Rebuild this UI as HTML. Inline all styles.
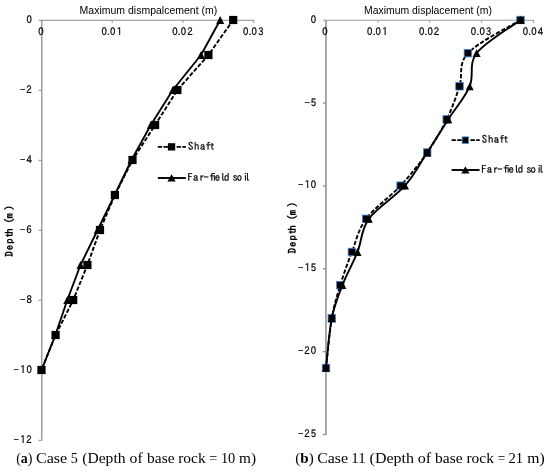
<!DOCTYPE html>
<html lang="en"><head><meta charset="utf-8"><title>Maximum displacement vs depth</title>
<style>html,body{margin:0;padding:0;background:#fff}svg{display:block}text{fill:#000;white-space:pre}.g{font-family:"IPAGothic","Liberation Mono",monospace;font-size:10.67px;stroke:#000;stroke-width:.22px}.t{font-family:"IPAPGothic","Liberation Sans",sans-serif;font-size:10.4px;stroke:#000;stroke-width:.3px}.a{font-family:"Liberation Sans",sans-serif;font-size:10.3px}.c{font-family:"Liberation Serif",serif;font-size:14.8px}</style></head><body>
<svg width="550" height="472" viewBox="0 0 550 472">
<rect width="550" height="472" fill="#fff"/>
<g stroke="#8c8c8c" stroke-width="1.3" fill="none">
<path d="M38.6 20.25H253.9" stroke-width="1"/>
<path d="M41.8 20V440.6" stroke-width="1.25"/>
</g>
<g stroke="#8c8c8c" stroke-width="1" fill="none">
<path d="M112.2 20V22.8"/>
<path d="M183 20V22.8"/>
<path d="M253.8 20V22.8"/>
<path d="M38.5 90.3H41.5" stroke="#808080" stroke-width="0.9"/>
<path d="M38.5 160.3H41.5" stroke="#808080" stroke-width="0.9"/>
<path d="M38.5 230.3H41.5" stroke="#808080" stroke-width="0.9"/>
<path d="M38.5 300.3H41.5" stroke="#808080" stroke-width="0.9"/>
<path d="M38.5 370.3H41.5" stroke="#808080" stroke-width="0.9"/>
<path d="M38.5 440.3H41.5" stroke="#808080" stroke-width="0.9"/>
</g>
<text class="a" x="79.6" y="13.8" textLength="137.6" lengthAdjust="spacingAndGlyphs">Maximum dismpalcement (m)</text>
<text class="t" transform="scale(0.82 1)" x="46.6" y="34.8">0</text>
<text class="t" transform="scale(0.82 1)" x="123.68 130.83 134.16 142.32" y="34.8">0.01</text>
<text class="t" transform="scale(0.82 1)" x="210.02 217.17 220.5 228.25" y="34.8">0.02</text>
<text class="t" transform="scale(0.82 1)" x="296.36 303.52 306.85 314.84" y="34.8">0.03</text>
<text class="t" transform="scale(0.82 1)" x="32.21" y="22.8">0</text>
<text class="t" transform="scale(0.82 1)" x="24.41 32.15" y="92.8">−2</text>
<text class="t" transform="scale(0.82 1)" x="24.41 32.23" y="162.8">−4</text>
<text class="t" transform="scale(0.82 1)" x="24.41 32.11" y="232.8">−6</text>
<text class="t" transform="scale(0.82 1)" x="24.41 32.2" y="302.8">−8</text>
<text class="t" transform="scale(0.82 1)" x="16.6 24.76 32.21" y="372.8">−10</text>
<text class="t" transform="scale(0.82 1)" x="16.6 24.76 32.15" y="442.8">−12</text>
<text class="g" font-weight="bold" stroke-width="0" style="stroke-width:0" transform="translate(13.1 256.57) rotate(-90)" x="0 6.24 12.82 18.88 22.93 28 33.12 38.05 46.08" y="0">Depth (m)</text>
<path d="M233.2 20L208.4 55L177.4 90L155.1 125L132.5 160L114.9 195L100 230L87.4 265L73.2 300L55.6 335L41.5 370" fill="none" stroke="#000" stroke-width="1.9" stroke-linejoin="round" stroke-dasharray="4.3 1.8" stroke-dashoffset="0.5"/>
<rect x="229.1" y="15.9" width="8.2" height="8.2" fill="#000"/>
<rect x="204.3" y="50.9" width="8.2" height="8.2" fill="#000"/>
<rect x="173.3" y="85.9" width="8.2" height="8.2" fill="#000"/>
<rect x="151" y="120.9" width="8.2" height="8.2" fill="#000"/>
<rect x="128.4" y="155.9" width="8.2" height="8.2" fill="#000"/>
<rect x="110.8" y="190.9" width="8.2" height="8.2" fill="#000"/>
<rect x="95.9" y="225.9" width="8.2" height="8.2" fill="#000"/>
<rect x="83.3" y="260.9" width="8.2" height="8.2" fill="#000"/>
<rect x="69.1" y="295.9" width="8.2" height="8.2" fill="#000"/>
<rect x="51.5" y="330.9" width="8.2" height="8.2" fill="#000"/>
<rect x="37.4" y="365.9" width="8.2" height="8.2" fill="#000"/>
<path d="M220.2 20L201 55L172.8 90L150.8 125L131.5 160L114.7 195L97.6 230L80.5 265L67.3 300L55.4 335L41.5 370" fill="none" stroke="#000" stroke-width="1.9" stroke-linejoin="round"/>
<path d="M220.2 16.1L224.2 23.9L216.2 23.9Z" fill="#000"/>
<path d="M201 51.1L205 58.9L197 58.9Z" fill="#000"/>
<path d="M172.8 86.1L176.8 93.9L168.8 93.9Z" fill="#000"/>
<path d="M150.8 121.1L154.8 128.9L146.8 128.9Z" fill="#000"/>
<path d="M131.5 156.1L135.5 163.9L127.5 163.9Z" fill="#000"/>
<path d="M114.7 191.1L118.7 198.9L110.7 198.9Z" fill="#000"/>
<path d="M97.6 226.1L101.6 233.9L93.6 233.9Z" fill="#000"/>
<path d="M80.5 261.1L84.5 268.9L76.5 268.9Z" fill="#000"/>
<path d="M67.3 296.1L71.3 303.9L63.3 303.9Z" fill="#000"/>
<path d="M55.4 331.1L59.4 338.9L51.4 338.9Z" fill="#000"/>
<path d="M41.5 366.1L45.5 373.9L37.5 373.9Z" fill="#000"/>
<path d="M157.8 146.85h4.3m1.3 0h4.6M176.6 146.85h4.5m1.3 0h3.5" stroke="#000" stroke-width="1.9" fill="none"/>
<rect x="167.9" y="143.2" width="7.3" height="7.3" fill="#000"/>
<path d="M157.8 178h28" stroke="#000" stroke-width="1.9" fill="none"/>
<path d="M171.55 174.2L175.65 181.4L167.45 181.4Z" fill="#000"/>
<text class="g" x="187.94 194.11 200.07 205.48 209.46" y="149.8">Shaft</text>
<text class="g" x="187.48 192.92 198.95 203.48 209.28 211.78 214.67 220.07 224 228.5 232.5 236.73 242.63 244.82" y="180.6">Far-field soil</text>
<text class="c" y="462.8"><tspan x="16.19" textLength="4.63" lengthAdjust="spacingAndGlyphs">(</tspan><tspan x="20.82" textLength="6.96" lengthAdjust="spacingAndGlyphs" font-weight="bold">a</tspan><tspan x="27.78" textLength="4.63" lengthAdjust="spacingAndGlyphs">)</tspan> <tspan x="36.04" textLength="31.22" lengthAdjust="spacingAndGlyphs">Case</tspan> <tspan x="70.68" textLength="7.07" lengthAdjust="spacingAndGlyphs">5</tspan> <tspan x="82.32" textLength="43.19" lengthAdjust="spacingAndGlyphs">(Depth</tspan> <tspan x="129.6" textLength="13.1" lengthAdjust="spacingAndGlyphs">of</tspan> <tspan x="147.1" textLength="27.44" lengthAdjust="spacingAndGlyphs">base</tspan> <tspan x="178.19" textLength="27.41" lengthAdjust="spacingAndGlyphs">rock</tspan> <tspan x="209.29" textLength="8" lengthAdjust="spacingAndGlyphs">=</tspan> <tspan x="220.94" textLength="14.3" lengthAdjust="spacingAndGlyphs">10</tspan> <tspan x="239.08" textLength="16.99" lengthAdjust="spacingAndGlyphs">m)</tspan></text>
<g stroke="#9a9a9a" stroke-width="1.5" fill="none">
<path d="M322.9 20.25H533.6" stroke-width="1.1"/>
<path d="M325.95 20V434.9" stroke-width="1.7"/>
</g>
<g stroke="#9a9a9a" stroke-width="1" fill="none">
<path d="M377.8 20V22.8"/>
<path d="M429.7 20V22.8"/>
<path d="M481.6 20V22.8"/>
<path d="M533.5 20V22.8"/>
<path d="M322.8 103.1H326" stroke="#959595" stroke-width="1.4"/>
<path d="M322.8 185.95H326" stroke="#959595" stroke-width="1.4"/>
<path d="M322.8 268.8H326" stroke="#959595" stroke-width="1.4"/>
<path d="M322.8 351.65H326" stroke="#959595" stroke-width="1.4"/>
<path d="M322.8 434.5H326" stroke="#959595" stroke-width="1.4"/>
</g>
<text class="a" x="364.1" y="13.7" textLength="127.8" lengthAdjust="spacingAndGlyphs">Maximum displacement (m)</text>
<text class="t" transform="scale(0.82 1)" x="392.94" y="34.8">0</text>
<text class="t" transform="scale(0.82 1)" x="447.58 454.74 458.07 466.22" y="34.8">0.01</text>
<text class="t" transform="scale(0.82 1)" x="510.87 518.03 521.36 529.1" y="34.8">0.02</text>
<text class="t" transform="scale(0.82 1)" x="574.16 581.32 584.65 592.64" y="34.8">0.03</text>
<text class="t" transform="scale(0.82 1)" x="637.46 644.61 647.94 655.77" y="34.8">0.04</text>
<text class="t" transform="scale(0.82 1)" x="379.04" y="22.8">0</text>
<text class="t" transform="scale(0.82 1)" x="371.24 378.99" y="105.65">−5</text>
<text class="t" transform="scale(0.82 1)" x="363.43 371.59 379.04" y="188.5">−10</text>
<text class="t" transform="scale(0.82 1)" x="363.43 371.59 378.99" y="271.35">−15</text>
<text class="t" transform="scale(0.82 1)" x="363.43 371.17 379.04" y="354.2">−20</text>
<text class="t" transform="scale(0.82 1)" x="363.43 371.17 378.99" y="437.05">−25</text>
<text class="g" font-weight="bold" stroke-width="0" style="stroke-width:0" transform="translate(296.4 253.32) rotate(-90)" x="0 6.24 12.82 18.88 22.93 28 33.12 38.05 46.08" y="0">Depth (m)</text>
<path d="M520.5 20C511.73 25.52 478.07 42.09 467.9 53.14C457.73 64.19 463.03 75.23 459.5 86.28C455.97 97.33 452.08 108.37 446.7 119.42C441.32 130.47 434.88 141.51 427.2 152.56C419.52 163.61 410.78 174.65 400.6 185.7C390.42 196.75 374.22 207.79 366.1 218.84C357.98 229.89 356.2 240.93 351.9 251.98C347.6 263.03 343.65 274.07 340.3 285.12C336.95 296.17 334.18 304.45 331.8 318.26C329.42 332.07 326.97 359.69 326 367.97" fill="none" stroke="#000" stroke-width="1.9" stroke-dasharray="4.3 1.8" stroke-dashoffset="0.5"/>
<rect x="516.75" y="16.25" width="7.5" height="7.5" fill="#000" stroke="#4588dc" stroke-width="0.8"/>
<rect x="464.15" y="49.39" width="7.5" height="7.5" fill="#000" stroke="#4588dc" stroke-width="0.8"/>
<rect x="455.75" y="82.53" width="7.5" height="7.5" fill="#000" stroke="#4588dc" stroke-width="0.8"/>
<rect x="442.95" y="115.67" width="7.5" height="7.5" fill="#000" stroke="#4588dc" stroke-width="0.8"/>
<rect x="423.45" y="148.81" width="7.5" height="7.5" fill="#000" stroke="#4588dc" stroke-width="0.8"/>
<rect x="396.85" y="181.95" width="7.5" height="7.5" fill="#000" stroke="#4588dc" stroke-width="0.8"/>
<rect x="362.35" y="215.09" width="7.5" height="7.5" fill="#000" stroke="#4588dc" stroke-width="0.8"/>
<rect x="348.15" y="248.23" width="7.5" height="7.5" fill="#000" stroke="#4588dc" stroke-width="0.8"/>
<rect x="336.55" y="281.37" width="7.5" height="7.5" fill="#000" stroke="#4588dc" stroke-width="0.8"/>
<rect x="328.05" y="314.51" width="7.5" height="7.5" fill="#000" stroke="#4588dc" stroke-width="0.8"/>
<rect x="322.25" y="364.22" width="7.5" height="7.5" fill="#000" stroke="#4588dc" stroke-width="0.8"/>
<path d="M520.5 20C513.18 25.52 485.07 42.09 476.6 53.14C468.13 64.19 474.43 75.23 469.7 86.28C464.97 97.33 455.28 108.37 448.2 119.42C441.12 130.47 434.4 141.51 427.2 152.56C420 163.61 414.73 174.65 405 185.7C395.27 196.75 376.72 207.79 368.8 218.84C360.88 229.89 361.9 240.93 357.5 251.98C353.1 263.03 346.68 274.07 342.4 285.12C338.12 296.17 334.53 304.45 331.8 318.26C329.07 332.07 326.97 359.69 326 367.97" fill="none" stroke="#000" stroke-width="1.9"/>
<path d="M520.5 16.1L524.5 23.9L516.5 23.9Z" fill="#000"/>
<path d="M476.6 49.24L480.6 57.04L472.6 57.04Z" fill="#000"/>
<path d="M469.7 82.38L473.7 90.18L465.7 90.18Z" fill="#000"/>
<path d="M448.2 115.52L452.2 123.32L444.2 123.32Z" fill="#000"/>
<path d="M427.2 148.66L431.2 156.46L423.2 156.46Z" fill="#000"/>
<path d="M405 181.8L409 189.6L401 189.6Z" fill="#000"/>
<path d="M368.8 214.94L372.8 222.74L364.8 222.74Z" fill="#000"/>
<path d="M357.5 248.08L361.5 255.88L353.5 255.88Z" fill="#000"/>
<path d="M342.4 281.22L346.4 289.02L338.4 289.02Z" fill="#000"/>
<path d="M331.8 314.36L335.8 322.16L327.8 322.16Z" fill="#000"/>
<path d="M326 364.07L330 371.87L322 371.87Z" fill="#000"/>
<path d="M451.6 140.15h4.3m1.3 0h4.6M470.4 140.15h4.5m1.3 0h3.5" stroke="#000" stroke-width="1.9" fill="none"/>
<rect x="462.15" y="136.9" width="6.5" height="6.5" fill="#000" stroke="#4588dc" stroke-width="0.8"/>
<path d="M451.6 170h28" stroke="#000" stroke-width="1.9" fill="none"/>
<path d="M465.4 166.2L469.5 173.4L461.3 173.4Z" fill="#000"/>
<text class="g" x="481.74 487.91 493.87 499.28 503.26" y="143.1">Shaft</text>
<text class="g" x="481.28 486.72 492.75 497.28 503.08 505.58 508.47 513.87 517.8 522.3 526.3 530.53 536.43 538.62" y="172.8">Far-field soil</text>
<text class="c" y="462.8"><tspan x="295.34" textLength="5.02" lengthAdjust="spacingAndGlyphs">(</tspan><tspan x="300.36" textLength="8.38" lengthAdjust="spacingAndGlyphs" font-weight="bold">b</tspan><tspan x="308.74" textLength="5.02" lengthAdjust="spacingAndGlyphs">)</tspan> <tspan x="317.15" textLength="30.9" lengthAdjust="spacingAndGlyphs">Case</tspan> <tspan x="351.34" textLength="14.32" lengthAdjust="spacingAndGlyphs">11</tspan> <tspan x="369.6" textLength="44.41" lengthAdjust="spacingAndGlyphs">(Depth</tspan> <tspan x="417.79" textLength="13.41" lengthAdjust="spacingAndGlyphs">of</tspan> <tspan x="435.1" textLength="27.64" lengthAdjust="spacingAndGlyphs">base</tspan> <tspan x="466.49" textLength="27.41" lengthAdjust="spacingAndGlyphs">rock</tspan> <tspan x="497.84" textLength="7.51" lengthAdjust="spacingAndGlyphs">=</tspan> <tspan x="508.46" textLength="14.62" lengthAdjust="spacingAndGlyphs">21</tspan> <tspan x="527.27" textLength="17.42" lengthAdjust="spacingAndGlyphs">m)</tspan></text>
</svg></body></html>
